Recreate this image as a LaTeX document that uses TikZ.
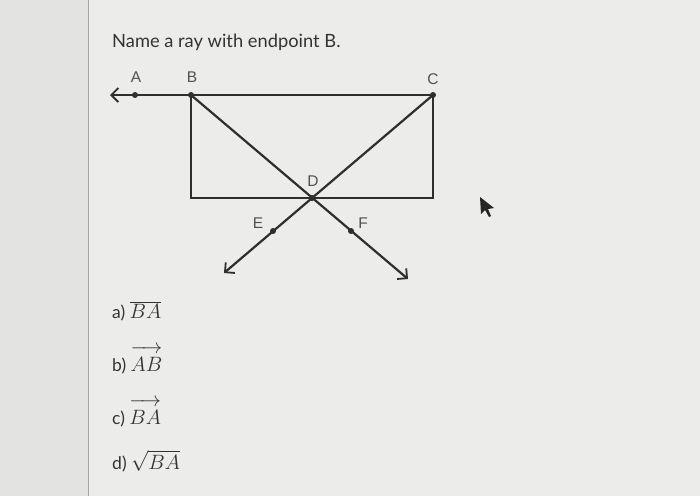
\documentclass[tikz,border=0pt]{standalone}
\usepackage{fontspec}
\setmainfont{Lato}
\newfontfamily\lblfont{Liberation Sans}
\usetikzlibrary{arrows.meta}
\definecolor{bgcol}{HTML}{E3E4E1}
\definecolor{pagecol}{HTML}{ECEDEA}
\definecolor{ink}{HTML}{2E2E2E}
\definecolor{txt}{HTML}{333333}
\tikzset{
  geo/.style={draw=ink, line width=2.2pt},
  ray/.style={geo, -{Straight Barb[length=7pt,width=14pt,line width=1.8pt]}},
  pt/.style={circle, fill=ink, inner sep=0pt, minimum size=6pt},
  lbl/.style={font=\lblfont\fontsize{15.5}{16}\selectfont, text=txt!85, inner sep=0pt},
  ans/.style={anchor=base west, inner sep=0pt, text=txt, font=\fontsize{17.5}{19}\selectfont}
}
\begin{document}
\begin{tikzpicture}[x=1pt,y=-1pt]
\useasboundingbox (0,0) rectangle (700,496);
\fill[bgcol] (0,0) rectangle (700,496);
\fill[pagecol] (88,0) rectangle (700,496);
\draw[gray!70, line width=0.8pt] (88,0) -- (88,496);

\node[anchor=base west, inner sep=0pt, text=txt, font=\fontsize{18.3}{20}\selectfont] (title) at (112,47) {Name a ray with endpoint B.};

% points
\coordinate (A) at (135,95);
\coordinate (B) at (191,95);
\coordinate (C) at (433,95);
\coordinate (D) at (312,198);
\coordinate (R) at (191,198);
\coordinate (S) at (433,198);
\coordinate (E) at (273,231);
\coordinate (F) at (351,231);
\coordinate (Aend) at (110,95);
\coordinate (Eend) at (224,273);
\coordinate (Fend) at (408,279);

% rectangle and lines
\draw[geo] (C) -- (S) -- (D) -- (R) -- (B);
\draw[ray] (C) -- (Aend);
\draw[ray] (B) -- (Fend);
\draw[ray] (C) -- (Eend);

\node[pt] (pA) at (A) {};
\node[pt] (pB) at (B) {};
\node[pt] (pC) at (C) {};
\node[pt] (pD) at (D) {};
\node[pt] (pE) at (E) {};
\node[pt] (pF) at (F) {};

\node[lbl] (lA) at (136,77) {A};
\node[lbl] (lB) at (192,77) {B};
\node[lbl] (lC) at (433,79) {C};
\node[lbl] (lD) at (313,181) {D};
\node[lbl] (lE) at (258,223) {E};
\node[lbl] (lF) at (363,223) {F};

% cursor
\fill[black!85] (480,197) -- (481,214) -- (485,210) -- (489,217) -- (491,216) -- (488,209) -- (494,208) -- cycle;

% answers
\node[ans] (a1) at (112,318) {a) \fontsize{20}{22}\selectfont$\overline{BA}$};
\node[ans] (a2) at (112,371) {b) \fontsize{20}{22}\selectfont$\overrightarrow{\rule{0pt}{0.95em}AB}$};
\node[ans] (a3) at (112,424) {c) \fontsize{20}{22}\selectfont$\overrightarrow{\rule{0pt}{0.95em}BA}$};
\node[ans] (a4) at (112,469) {d) \fontsize{20}{22}\selectfont$\sqrt{BA}$};
\end{tikzpicture}
\end{document}
